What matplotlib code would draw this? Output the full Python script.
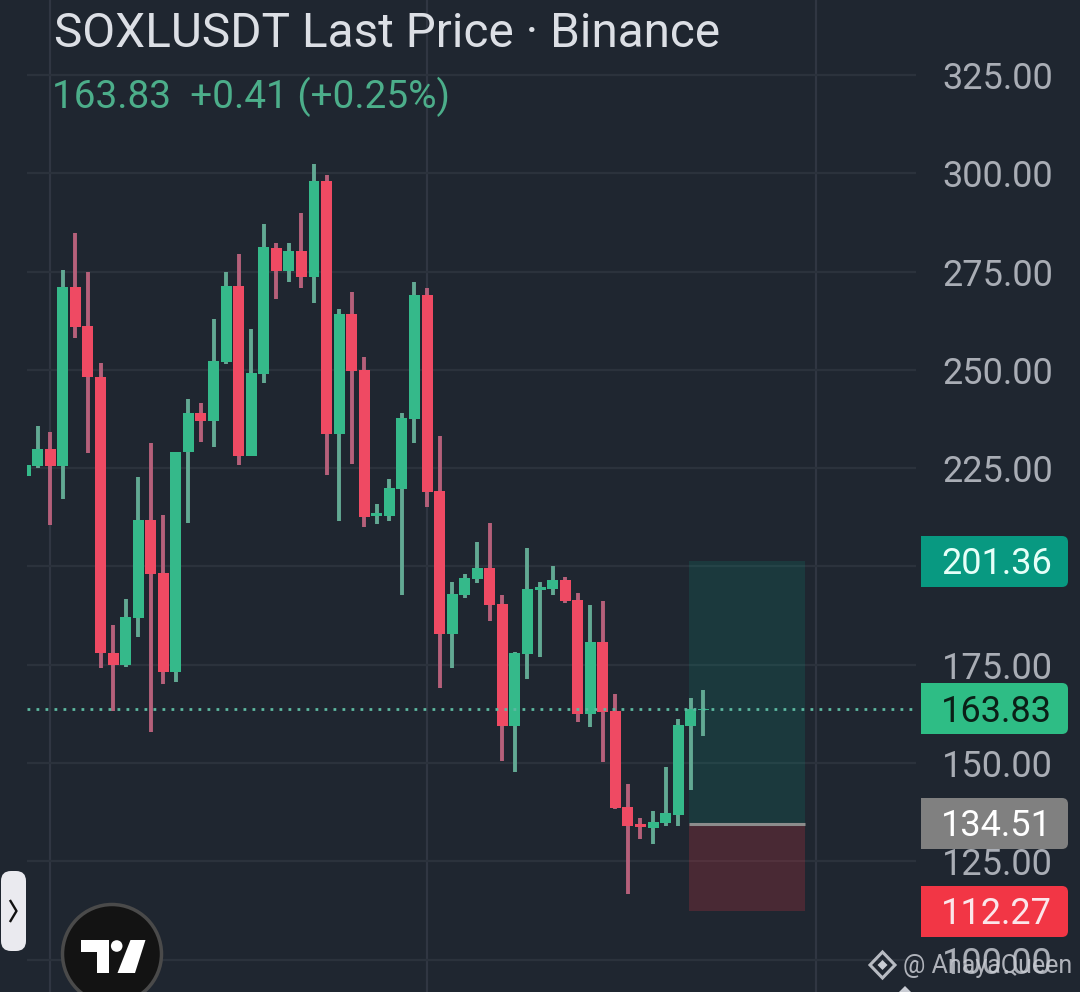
import matplotlib
matplotlib.use('Agg')
import matplotlib.pyplot as plt
from matplotlib.patches import Rectangle, FancyBboxPatch, Circle, Polygon

plt.rcParams['font.family'] = ['Roboto', 'DejaVu Sans']

# candles
opens = [223.0, 225.5, 229.9, 225.5, 271.1, 261.2, 248.2, 178.1, 174.9, 186.9, 211.8, 198.3, 173.2, 229.0,
         239.1, 237.0, 252.0, 271.3, 228.1, 248.9, 281.1, 275.2, 280.3, 273.6, 298.0, 233.7, 264.2, 249.9,
         212.9, 212.8, 219.7, 237.6, 269.0, 219.1, 182.8, 192.7, 196.7, 199.5, 190.4, 159.5, 177.7, 194.0,
         194.3, 196.5, 191.5, 162.5, 180.8, 163.2, 138.7, 134.4, 133.5, 134.8, 136.8, 159.5, 163.42]
closes = [225.8, 229.9, 225.5, 271.1, 261.0, 248.2, 178.1, 174.9, 187.1, 211.8, 198.1, 173.2, 229.0, 239.1,
          237.0, 252.2, 271.3, 228.1, 249.3, 281.2, 275.2, 280.3, 273.6, 298.0, 233.7, 264.2, 249.7, 212.6,
          213.5, 219.9, 237.7, 269.0, 219.0, 182.8, 193.0, 197.0, 199.5, 190.3, 159.5, 178.1, 194.3, 194.7,
          196.5, 191.2, 162.5, 180.8, 163.0, 138.6, 134.0, 133.8, 135.0, 137.2, 159.7, 163.7, 163.83]
highs = [225.8, 235.7, 234.2, 275.4, 284.9, 274.9, 251.8, 185.1, 191.7, 222.8, 231.5, 213.1, 229.0, 242.6,
         241.6, 262.9, 274.9, 279.4, 260.4, 287.1, 282.2, 282.2, 290.0, 302.3, 299.5, 265.5, 269.8, 253.3,
         215.9, 222.2, 239.0, 272.3, 270.8, 233.2, 196.0, 198.1, 206.2, 211.0, 192.7, 178.3, 204.7, 196.0,
         200.1, 197.3, 193.2, 190.2, 191.2, 167.5, 144.6, 135.9, 137.8, 148.9, 161.1, 166.6, 168.6]
lows = [223.0, 225.1, 210.5, 217.2, 258.1, 228.8, 174.2, 163.3, 174.5, 182.0, 157.9, 170.1, 170.6, 211.0,
        231.6, 230.4, 251.5, 225.8, 228.1, 246.6, 268.0, 272.3, 270.9, 267.0, 223.2, 211.5, 226.0, 210.1,
        210.8, 211.6, 192.7, 231.4, 215.1, 169.2, 174.2, 192.0, 195.9, 186.1, 150.5, 147.7, 171.4, 177.0,
        192.7, 190.8, 160.4, 159.2, 150.3, 138.2, 116.7, 130.7, 129.4, 134.0, 134.0, 143.1, 156.9]

price_ticks = [100, 125, 150, 175, 200, 225, 250, 275, 300, 325]
# 200.00 sits behind the target tag in the picture, only its gridline shows
price_labels = ['100.00', '125.00', '150.00', '175.00', '', '225.00', '250.00', '275.00', '300.00', '325.00']
time_ticks = [2, 32, 63]
last_price = 163.83
entry_price = 134.51
target_price = 201.36
stop_price = 112.27
box_start = 52.86
box_end = 62.1

BG = '#1f2630'
GREEN = '#35b98a'
RED = '#ef4a63'
W, H = 1080, 992
YMIN, YMAX = 91.76, 344.05

fig = plt.figure(figsize=(W / 100, H / 100), dpi=100, facecolor=BG)
ax = fig.add_axes([27 / W, 0, (916 - 27) / W, 1], facecolor=BG)
ax.set_xlim(0.145, 70.94)
ax.set_ylim(YMIN, YMAX)

ax.set_yticks(price_ticks)
ax.set_yticklabels(price_labels, fontsize=26, color='#a9adb5')
ax.yaxis.tick_right()
ax.set_xticks(time_ticks)
ax.set_xticklabels([])
ax.tick_params(length=0)
ax.tick_params(axis='y', pad=18.8)
ax.grid(True, axis='y', color='#2b323c', lw=1.6)
ax.grid(True, axis='x', color='#303642', lw=1.6)
ax.set_axisbelow(True)
for s in ax.spines.values():
    s.set_visible(False)

# long position box
ax.add_patch(Rectangle((box_start, entry_price), box_end - box_start, target_price - entry_price,
                       fc='#089981', alpha=0.17, ec='none', zorder=1))
ax.add_patch(Rectangle((box_start, stop_price), box_end - box_start, entry_price - stop_price,
                       fc='#f23645', alpha=0.2, ec='none', zorder=1))
ax.plot([box_start, box_end], [entry_price, entry_price], color='#8c8c8c', lw=2.2,
        solid_capstyle='butt', zorder=2)

for i in range(len(opens)):
    up = closes[i] >= opens[i]
    wick = '#62a993' if up else '#b5607a'
    ax.vlines(i, lows[i], highs[i], color=wick, lw=2.8, zorder=3)
    ax.bar(i, abs(closes[i] - opens[i]), bottom=min(opens[i], closes[i]), width=0.875,
           color=GREEN if up else RED, lw=0, zorder=4)

ax.plot([0.145, 70.7], [last_price, last_price], color='#5cb8a0', lw=2.0,
        linestyle=(0, (1, 2.24)), zorder=5)

# overlay in pixels for labels and logos
ov = fig.add_axes([0, 0, 1, 1], facecolor='none')
ov.set_xlim(0, W)
ov.set_ylim(H, 0)
ov.axis('off')


def tag(price, fc, tc, top, bottom):
    ov.add_patch(FancyBboxPatch((921, top), 147, bottom - top, boxstyle='round,pad=0,rounding_size=6',
                                fc=fc, ec='none', zorder=5))
    ov.add_patch(Rectangle((921, top), 20, bottom - top, fc=fc, ec='none', zorder=5))
    ov.text(1052, (top + bottom) / 2 + 3, f'{price:.2f}', ha='right', va='center', fontsize=26,
            color=tc, zorder=6)


tag(target_price, '#089981', '#e6fff8', 536, 587)
tag(last_price, '#2ebd85', '#0b1f17', 683, 734)
tag(entry_price, '#808080', '#ffffff', 798, 849)
tag(stop_price, '#f23645', '#fbe6ea', 886, 937)

ov.text(54, 34, 'SOXLUSDT Last Price · Binance', ha='left', va='center', fontsize=34.4, color='#dcdfe5')
ov.text(52, 97, '163.83  +0.41 (+0.25%)', ha='left', va='center', fontsize=27.9, color='#4cae8a')

# side tab
ov.add_patch(FancyBboxPatch((1, 871), 25, 80, boxstyle='round,pad=0,rounding_size=10',
                            fc='#eaeaef', ec='none', zorder=5))
ov.plot([10.5, 16.5, 10.5], [901, 911, 921], color='#111111', lw=1.7, zorder=6)

# tradingview badge
ov.add_patch(Circle((112, 954), 49.5, fc='#131313', ec='#4a4a4a', lw=2.5, zorder=5))
ov.add_patch(Polygon([(81, 940), (109, 940), (109, 973), (96.5, 973), (96.5, 952), (81, 952)],
                     fc='white', ec='none', zorder=6))
ov.add_patch(Circle((116.7, 946), 5.8, fc='white', ec='none', zorder=6))
ov.add_patch(Polygon([(130.5, 940), (145.5, 940), (135, 973), (117.5, 973)], fc='white', ec='none', zorder=6))

# watermark
wm = '#c9ccd3'
ov.add_patch(Polygon([(882.5, 952), (895, 965), (882.5, 978), (870, 965)], fc='none', ec=wm, lw=2.2, alpha=0.9, zorder=6))
ov.add_patch(Polygon([(882.5, 960), (887.5, 965), (882.5, 970), (877.5, 965)], fc=wm, ec='none', zorder=6))
ov.text(903, 966, '@ AnayaQueen', ha='left', va='center', fontsize=18, color=wm, alpha=0.85, zorder=6)
ov.add_patch(Polygon([(905, 986), (911, 992), (899, 992)], fc=wm, ec='none', zorder=6))

fig.savefig('out.png', dpi=100, facecolor=BG)
